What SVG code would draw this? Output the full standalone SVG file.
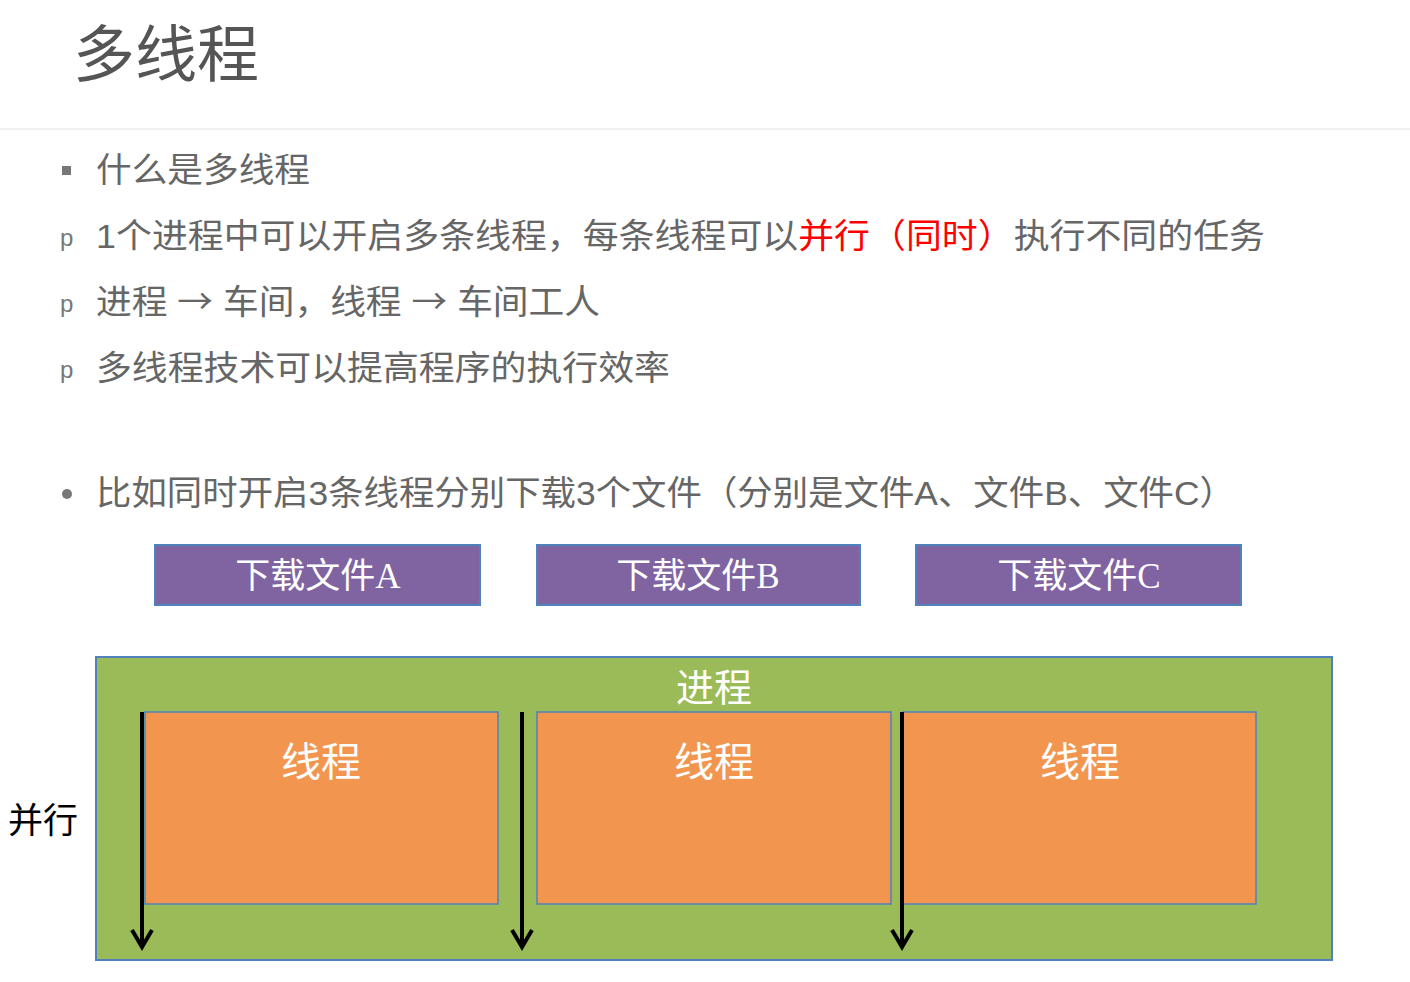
<svg xmlns="http://www.w3.org/2000/svg" width="1410" height="982" viewBox="0 0 1410 982">
<style>
.t{font-family:"Liberation Sans","Noto Sans CJK SC",sans-serif;fill:#666;font-size:34px}
.b{font-family:"Liberation Sans","Noto Sans CJK SC",sans-serif;fill:#777;font-size:24px}
.w{font-family:"Liberation Serif","Noto Sans CJK SC",serif;fill:#fff;text-anchor:middle}
.p{fill:#8064A2;stroke:#4F81BD;stroke-width:2}
.o{fill:#F2964F;stroke:#4F81BD;stroke-width:1.5}
.ar{font-family:"Noto Sans CJK SC",sans-serif}
</style>
<rect width="1410" height="982" fill="#fff"/>
<text x="73" y="77" font-family="Liberation Sans,'Noto Sans CJK SC',sans-serif" font-size="62" fill="#555">多线程</text>
<line x1="0" y1="129" x2="1410" y2="129" stroke="#f0f0f0" stroke-width="2"/>
<rect x="62" y="166" width="9" height="9" fill="#777"/>
<text class="t" x="96" y="182" textLength="214" lengthAdjust="spacingAndGlyphs">什么是多线程</text>
<text class="b" x="60" y="246">p</text>
<text class="t" x="96" y="248" textLength="1169" lengthAdjust="spacingAndGlyphs">1个进程中可以开启多条线程，每条线程可以<tspan fill="#f00">并行（同时）</tspan>执行不同的任务</text>
<text class="b" x="60" y="312">p</text>
<text class="t" x="96" y="314" textLength="504" lengthAdjust="spacingAndGlyphs">进程 <tspan class="ar">→</tspan> 车间，线程 <tspan class="ar">→</tspan> 车间工人</text>
<text class="b" x="60" y="378">p</text>
<text class="t" x="96" y="380" textLength="574" lengthAdjust="spacingAndGlyphs">多线程技术可以提高程序的执行效率</text>
<circle cx="67" cy="494" r="5" fill="#777"/>
<text class="t" x="96" y="505" textLength="1139" lengthAdjust="spacingAndGlyphs">比如同时开启3条线程分别下载3个文件（分别是文件A、文件B、文件C）</text>
<g id="dlA"><rect class="p" x="155" y="545" width="325" height="60"/><text class="w" x="318" y="588" font-size="35">下载文件A</text></g>
<g id="dlB"><rect class="p" x="537" y="545" width="323" height="60"/><text class="w" x="698" y="588" font-size="35">下载文件B</text></g>
<g id="dlC"><rect class="p" x="916" y="545" width="325" height="60"/><text class="w" x="1079" y="588" font-size="35">下载文件C</text></g>
<g id="proc"><rect x="96" y="657" width="1236" height="303" fill="#9BBB59" stroke="#4F81BD" stroke-width="2"/><text class="w" x="714" y="701" font-size="38" font-family="Noto Sans CJK SC,sans-serif">进程</text></g>
<g id="t1"><rect class="o" x="145" y="712" width="353" height="192"/><text class="w" x="321" y="776" font-size="40">线程</text></g>
<g id="t2"><rect class="o" x="537" y="712" width="354" height="192"/><text class="w" x="714" y="776" font-size="40">线程</text></g>
<g id="t3"><rect class="o" x="903" y="712" width="353" height="192"/><text class="w" x="1080" y="776" font-size="40">线程</text></g>
<text x="8" y="833" font-family="Liberation Sans,'Noto Sans CJK SC',sans-serif" font-size="35" fill="#000">并行</text>
<g id="connectors" stroke="#000" stroke-width="4" fill="none">
<line x1="142" y1="712" x2="142" y2="946"/><path d="M132,930 L142,947 L152,930"/>
<line x1="522" y1="712" x2="522" y2="946"/><path d="M512,930 L522,947 L532,930"/>
<line x1="902" y1="712" x2="902" y2="946"/><path d="M892,930 L902,947 L912,930"/>
</g>
</svg>
